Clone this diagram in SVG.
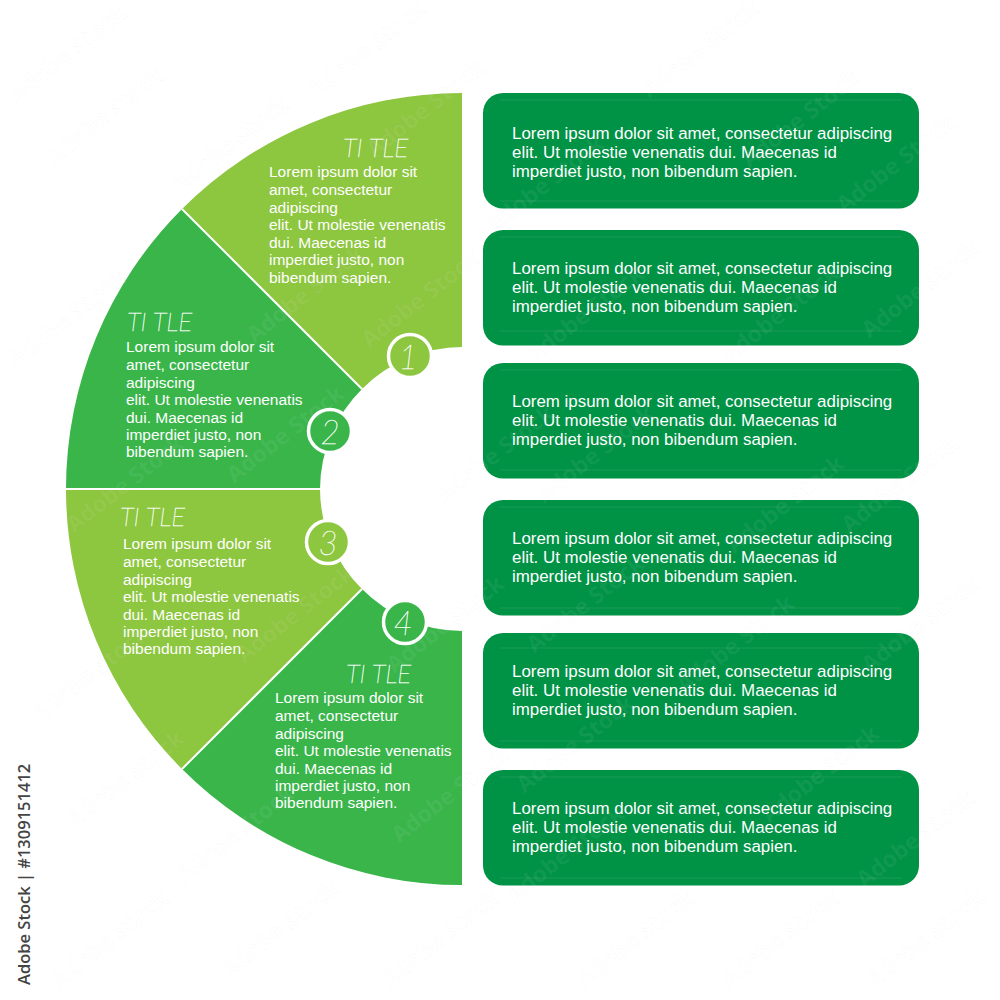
<svg xmlns="http://www.w3.org/2000/svg" width="1000" height="1000" viewBox="0 0 1000 1000">
<style>
.l{fill:#8dc63f}.m{fill:#39b54a}.d{fill:#009245}
.sep{fill:none;stroke:#fff;stroke-width:2}
.t{font-family:"Liberation Sans",Arial,sans-serif;font-size:15.5px;fill:#fff}
.b{font-family:"Liberation Sans",Arial,sans-serif;font-size:16.9px;fill:#fff}
.h{font-family:Lato,"Open Sans",sans-serif;font-weight:100;font-style:italic;font-size:26px;fill:#fff;stroke:#fff;stroke-width:.35;white-space:pre}
.n{font-family:Lato,"Open Sans",sans-serif;font-weight:100;font-style:italic;font-size:33px;fill:#fff;stroke:#fff;stroke-width:.35;text-anchor:middle}
.c{stroke:#fff;stroke-width:3.500}
.g{stroke:#fff;stroke-opacity:.07;stroke-width:1.500;fill:none}
.wm{font-family:"Open Sans",sans-serif;font-weight:700;font-size:23px;text-anchor:middle;fill:#fff;fill-opacity:.07;stroke:#777;stroke-opacity:.035;stroke-width:1}
</style>
<g id="sector-1"><path class="l" d="M462 93A396 396 0 0 0 182 209L362 389A142 142 0 0 1 462 347Z"/>
<text class="h" x="343" y="157">TI TLE</text>
<text class="t"><tspan x="269" y="177">Lorem ipsum dolor sit</tspan><tspan x="269" y="195">amet, consectetur</tspan><tspan x="269" y="212.500">adipiscing</tspan><tspan x="269" y="230">elit. Ut molestie venenatis</tspan><tspan x="269" y="247.500">dui. Maecenas id</tspan><tspan x="269" y="265">imperdiet justo, non</tspan><tspan x="269" y="283">bibendum sapien.</tspan></text></g>
<g id="sector-2"><path class="m" d="M182 209A396 396 0 0 0 66 489H320A142 142 0 0 1 362 389Z"/>
<text class="h" x="127" y="331">TI TLE</text>
<text class="t"><tspan x="126" y="352">Lorem ipsum dolor sit</tspan><tspan x="126" y="370">amet, consectetur</tspan><tspan x="126" y="387.500">adipiscing</tspan><tspan x="126" y="405">elit. Ut molestie venenatis</tspan><tspan x="126" y="422.500">dui. Maecenas id</tspan><tspan x="126" y="440">imperdiet justo, non</tspan><tspan x="126" y="457">bibendum sapien.</tspan></text></g>
<g id="sector-3"><path class="l" d="M66 489A396 396 0 0 0 182 769L362 589A142 142 0 0 1 320 489Z"/>
<text class="h" x="120" y="526">TI TLE</text>
<text class="t"><tspan x="123" y="549">Lorem ipsum dolor sit</tspan><tspan x="123" y="567">amet, consectetur</tspan><tspan x="123" y="584.500">adipiscing</tspan><tspan x="123" y="602">elit. Ut molestie venenatis</tspan><tspan x="123" y="619.500">dui. Maecenas id</tspan><tspan x="123" y="637">imperdiet justo, non</tspan><tspan x="123" y="654">bibendum sapien.</tspan></text></g>
<g id="sector-4"><path class="m" d="M182 769A396 396 0 0 0 462 885V631A142 142 0 0 1 362 589Z"/>
<text class="h" x="346" y="683">TI TLE</text>
<text class="t"><tspan x="275" y="703">Lorem ipsum dolor sit</tspan><tspan x="275" y="721">amet, consectetur</tspan><tspan x="275" y="738.500">adipiscing</tspan><tspan x="275" y="756">elit. Ut molestie venenatis</tspan><tspan x="275" y="773.500">dui. Maecenas id</tspan><tspan x="275" y="791">imperdiet justo, non</tspan><tspan x="275" y="808">bibendum sapien.</tspan></text></g>
<g id="connectors"><path class="sep" d="M182 209L362 389M66 489H320M182 769L362 589"/></g>
<g id="badge-1"><circle class="l c" cx="410" cy="356" r="21.500"/><text class="n" x="408" y="369">1</text></g>
<g id="badge-2"><circle class="m c" cx="330" cy="431" r="21.500"/><text class="n" x="330" y="444">2</text></g>
<g id="badge-3"><circle class="l c" cx="328" cy="542" r="21.500"/><text class="n" x="328" y="555">3</text></g>
<g id="badge-4"><circle class="m c" cx="405" cy="622" r="21.500"/><text class="n" x="403" y="635">4</text></g>
<g id="box-1"><rect class="d" x="483" y="93" width="436" height="115.500" rx="20"/><path class="g" d="M500 100H902M500 201H902"/><text class="b"><tspan x="512" y="138.500">Lorem ipsum dolor sit amet, consectetur adipiscing</tspan><tspan x="512" y="157.500">elit. Ut molestie venenatis dui. Maecenas id</tspan><tspan x="512" y="176.500">imperdiet justo, non bibendum sapien.</tspan></text></g>
<g id="box-2"><rect class="d" x="483" y="230" width="436" height="115.500" rx="20"/><path class="g" d="M500 237H902M500 331H902"/><text class="b"><tspan x="512" y="273.500">Lorem ipsum dolor sit amet, consectetur adipiscing</tspan><tspan x="512" y="292.500">elit. Ut molestie venenatis dui. Maecenas id</tspan><tspan x="512" y="311.500">imperdiet justo, non bibendum sapien.</tspan></text></g>
<g id="box-3"><rect class="d" x="483" y="363" width="436" height="115.500" rx="20"/><path class="g" d="M500 370H902M500 470H902"/><text class="b"><tspan x="512" y="406.500">Lorem ipsum dolor sit amet, consectetur adipiscing</tspan><tspan x="512" y="425.500">elit. Ut molestie venenatis dui. Maecenas id</tspan><tspan x="512" y="444.500">imperdiet justo, non bibendum sapien.</tspan></text></g>
<g id="box-4"><rect class="d" x="483" y="500" width="436" height="115.500" rx="20"/><path class="g" d="M500 507H902M500 608H902"/><text class="b"><tspan x="512" y="543.500">Lorem ipsum dolor sit amet, consectetur adipiscing</tspan><tspan x="512" y="562.500">elit. Ut molestie venenatis dui. Maecenas id</tspan><tspan x="512" y="581.500">imperdiet justo, non bibendum sapien.</tspan></text></g>
<g id="box-5"><rect class="d" x="483" y="633" width="436" height="115.500" rx="20"/><path class="g" d="M500 648H902M500 741H902"/><text class="b"><tspan x="512" y="676.500">Lorem ipsum dolor sit amet, consectetur adipiscing</tspan><tspan x="512" y="695.500">elit. Ut molestie venenatis dui. Maecenas id</tspan><tspan x="512" y="714.500">imperdiet justo, non bibendum sapien.</tspan></text></g>
<g id="box-6"><rect class="d" x="483" y="770" width="436" height="115.500" rx="20"/><path class="g" d="M500 777H902M500 878H902"/><text class="b"><tspan x="512" y="813.500">Lorem ipsum dolor sit amet, consectetur adipiscing</tspan><tspan x="512" y="832.500">elit. Ut molestie venenatis dui. Maecenas id</tspan><tspan x="512" y="851.500">imperdiet justo, non bibendum sapien.</tspan></text></g>
<g id="watermark">
<text class="wm" transform="translate(72 60) rotate(-38)">Adobe Stock</text>
<text class="wm" transform="translate(372 55) rotate(-38)">Adobe Stock</text>
<text class="wm" transform="translate(705 55) rotate(-38)">Adobe Stock</text>
<text class="wm" transform="translate(110 122) rotate(-38)">Adobe Stock</text>
<text class="wm" transform="translate(235 150) rotate(-38)">Adobe Stock</text>
<text class="wm" transform="translate(430 115) rotate(-38)">Adobe Stock</text>
<text class="wm" transform="translate(805 125) rotate(-38)">Adobe Stock</text>
<text class="wm" transform="translate(550 190) rotate(-38)">Adobe Stock</text>
<text class="wm" transform="translate(900 170) rotate(-38)">Adobe Stock</text>
<text class="wm" transform="translate(310 300) rotate(-38)">Adobe Stock</text>
<text class="wm" transform="translate(425 305) rotate(-38)">Adobe Stock</text>
<text class="wm" transform="translate(925 295) rotate(-38)">Adobe Stock</text>
<text class="wm" transform="translate(72 325) rotate(-38)">Adobe Stock</text>
<text class="wm" transform="translate(590 320) rotate(-38)">Adobe Stock</text>
<text class="wm" transform="translate(785 320) rotate(-38)">Adobe Stock</text>
<text class="wm" transform="translate(500 460) rotate(-38)">Adobe Stock</text>
<text class="wm" transform="translate(600 460) rotate(-38)">Adobe Stock</text>
<text class="wm" transform="translate(290 440) rotate(-38)">Adobe Stock</text>
<text class="wm" transform="translate(130 490) rotate(-38)">Adobe Stock</text>
<text class="wm" transform="translate(905 490) rotate(-38)">Adobe Stock</text>
<text class="wm" transform="translate(790 510) rotate(-38)">Adobe Stock</text>
<text class="wm" transform="translate(300 620) rotate(-38)">Adobe Stock</text>
<text class="wm" transform="translate(590 610) rotate(-38)">Adobe Stock</text>
<text class="wm" transform="translate(95 680) rotate(-38)">Adobe Stock</text>
<text class="wm" transform="translate(450 630) rotate(-38)">Adobe Stock</text>
<text class="wm" transform="translate(925 630) rotate(-38)">Adobe Stock</text>
<text class="wm" transform="translate(740 650) rotate(-38)">Adobe Stock</text>
<text class="wm" transform="translate(130 785) rotate(-38)">Adobe Stock</text>
<text class="wm" transform="translate(240 840) rotate(-38)">Adobe Stock</text>
<text class="wm" transform="translate(455 800) rotate(-38)">Adobe Stock</text>
<text class="wm" transform="translate(580 750) rotate(-38)">Adobe Stock</text>
<text class="wm" transform="translate(825 780) rotate(-38)">Adobe Stock</text>
<text class="wm" transform="translate(920 845) rotate(-38)">Adobe Stock</text>
<text class="wm" transform="translate(570 860) rotate(-38)">Adobe Stock</text>
<text class="wm" transform="translate(285 935) rotate(-38)">Adobe Stock</text>
<text class="wm" transform="translate(115 945) rotate(-38)">Adobe Stock</text>
<text class="wm" transform="translate(445 945) rotate(-38)">Adobe Stock</text>
<text class="wm" transform="translate(640 945) rotate(-38)">Adobe Stock</text>
<text class="wm" transform="translate(785 945) rotate(-38)">Adobe Stock</text>
<text class="wm" transform="translate(930 945) rotate(-38)">Adobe Stock</text>
</g>
<g id="credit"><text transform="translate(30 985) rotate(-90)" style="font-family:'Open Sans',sans-serif;font-size:16.500px;font-weight:600;fill:#444">Adobe Stock | #1309151412</text></g>
</svg>
